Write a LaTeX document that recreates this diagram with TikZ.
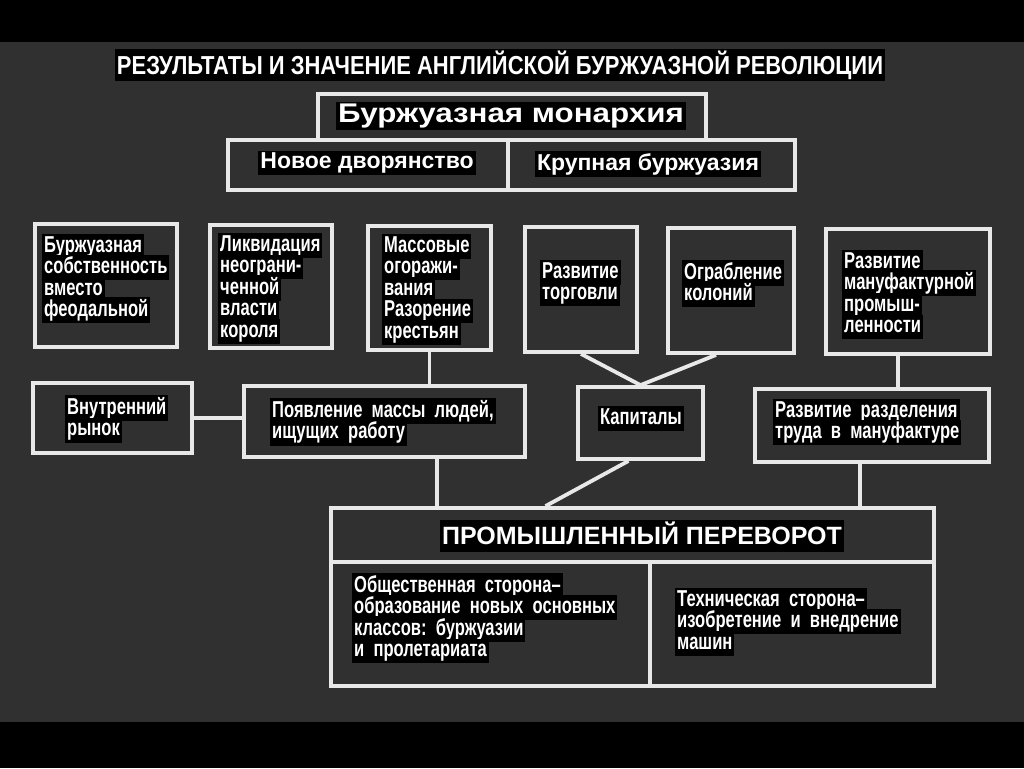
\documentclass[tikz,border=0pt]{standalone}
\usepackage{fontspec}
\setmainfont{Liberation Sans}
\newfontfamily\condf[FakeStretch=0.72]{Liberation Sans}
\newfontfamily\titlef[FakeStretch=0.845]{Liberation Sans}
\newfontfamily\widef[FakeStretch=1.16]{Liberation Sans}
\usetikzlibrary{calc}
\definecolor{bg}{RGB}{48,48,48}
\definecolor{fg}{RGB}{232,232,232}
\setlength{\fboxsep}{2pt}
\newcommand\hl[1]{\colorbox{black}{#1\vphantom{Ву}}}
\newcommand\txtfont{\condf\bfseries\fontsize{23}{21.5}\selectfont}
\tikzset{
  box/.style={draw=fg, line width=3.8pt, inner sep=0pt},
  link/.style={draw=fg, line width=3.8pt},
  txt/.style={text=white, font=\txtfont, align=left, inner sep=0pt, anchor=north west},
  ttl/.style={text=white, font=\titlef\bfseries\fontsize{26}{28}\selectfont, inner sep=0pt},
  big/.style={text=white, font=\widef\bfseries\fontsize{27}{30}\selectfont, inner sep=0pt},
  mid/.style={text=white, font=\bfseries\fontsize{23}{26}\selectfont, inner sep=0pt},
  head/.style={text=white, font=\bfseries\fontsize{25}{28}\selectfont, inner sep=0pt}
}
\begin{document}
\setlength{\lineskiplimit}{-50pt}
\begin{tikzpicture}[x=1pt,y=-1pt]
\useasboundingbox (0,0) rectangle (1024,768);
\fill[black] (0,0) rectangle (1024,768);
\fill[bg] (0,42) rectangle (1024,722);

% title
\node[ttl] (title) at (500,65) {\hl{РЕЗУЛЬТАТЫ И ЗНАЧЕНИЕ АНГЛИЙСКОЙ БУРЖУАЗНОЙ РЕВОЛЮЦИИ}};

% monarchy
\node[box, minimum width=388pt, minimum height=46pt] (mon) at (512,117) {};
\node[big] (tmon) at (511,116) {\hl{Буржуазная монархия}};
\node[box, minimum width=280pt, minimum height=50pt] (nob) at (368,165) {};
\node[box, minimum width=287pt, minimum height=50pt] (bur) at (651.5,165) {};
\node[mid] (tnob) at (367,163) {\hl{Новое дворянство}};
\node[mid] (tbur) at (648,164) {\hl{Крупная буржуазия}};

% row 1
\node[box, minimum width=142pt, minimum height=123pt] (A) at (106,285.5) {};
\node[box, minimum width=122pt, minimum height=123pt] (B) at (271,286.5) {};
\node[box, minimum width=123pt, minimum height=124pt] (C) at (429.5,288) {};
\node[box, minimum width=112pt, minimum height=125pt] (D) at (581,289.5) {};
\node[box, minimum width=126pt, minimum height=125pt] (E) at (731,290.5) {};
\node[box, minimum width=164pt, minimum height=125pt] (F) at (908,291.5) {};

\node[txt] (tA) at (42,234) {\hl{Буржуазная}\\\hl{собственность}\\\hl{вместо}\\\hl{феодальной}};
\node[txt] (tB) at (218,233) {\hl{Ликвидация}\\\hl{неограни-}\\\hl{ченной}\\\hl{власти}\\\hl{короля}};
\node[txt] (tC) at (382,234) {\hl{Массовые}\\\hl{огоражи-}\\\hl{вания}\\\hl{Разорение}\\\hl{крестьян}};
\node[txt] (tD) at (540,260) {\hl{Развитие}\\\hl{торговли}};
\node[txt] (tE) at (682,260) {\hl{Ограбление}\\\hl{колоний}};
\node[txt] (tF) at (842,250) {\hl{Развитие}\\\hl{мануфактурной}\\\hl{промыш-}\\\hl{ленности}};

% row 2
\node[box, minimum width=159pt, minimum height=70pt] (G) at (112.5,418) {};
\node[box, minimum width=281pt, minimum height=71pt] (H) at (384.5,421.5) {};
\node[box, minimum width=125pt, minimum height=72pt] (I) at (640.5,423) {};
\node[box, minimum width=234pt, minimum height=73pt] (J) at (872,425.5) {};

\node[txt] (tG) at (65,395) {\hl{Внутренний}\\\hl{рынок}};
\node[txt] (tH) at (270,398) {\hl{Появление\ \ массы\ \ людей,}\\\hl{ищущих\ \ работу}};
\node[txt, anchor=north] (tI) at (641,406) {\hl{Капиталы}};
\node[txt] (tJ) at (773,399) {\hl{Развитие\ \ разделения}\\\hl{труда\ \ в\ \ мануфактуре}};

% industrial revolution
\node[box, minimum width=603pt, minimum height=54pt] (K) at (632.5,535) {};
\node[box, minimum width=319pt, minimum height=124pt] (Ks) at (490.5,624) {};
\node[box, minimum width=284pt, minimum height=124pt] (Kt) at (792,624) {};
\node[head] (tK) at (642,536) {\hl{ПРОМЫШЛЕННЫЙ ПЕРЕВОРОТ}};
\node[txt] (tKs) at (352,573) {\hl{Общественная\ \ сторона–}\\\hl{образование\ \ новых\ \ основных}\\\hl{классов:\ \ буржуазии}\\\hl{и\ \ пролетариата}};
\node[txt] (tKt) at (675,588) {\hl{Техническая\ \ сторона–}\\\hl{изобретение\ \ и\ \ внедрение}\\\hl{машин}};

% connectors
\draw[link] (G.east) -- (G.east -| H.west);
\draw[link] (C.south) -- (C.south |- H.north);
\draw[link] (D.south) -- (I.north);
\draw[link] ([xshift=-15pt]E.south) -- (I.north);
\draw[link] ([xshift=-10pt]F.south) -- ([xshift=-10pt]F.south |- J.north);
\draw[link] ([xshift=52.5pt]H.south) -- ([xshift=52.5pt]H.south |- K.north);
\draw[link] ([xshift=-12pt]I.south) -- ([xshift=-87pt]K.north);
\draw[link] ([xshift=-12pt]J.south) -- ([xshift=-12pt]J.south |- K.north);
\end{tikzpicture}
\end{document}
